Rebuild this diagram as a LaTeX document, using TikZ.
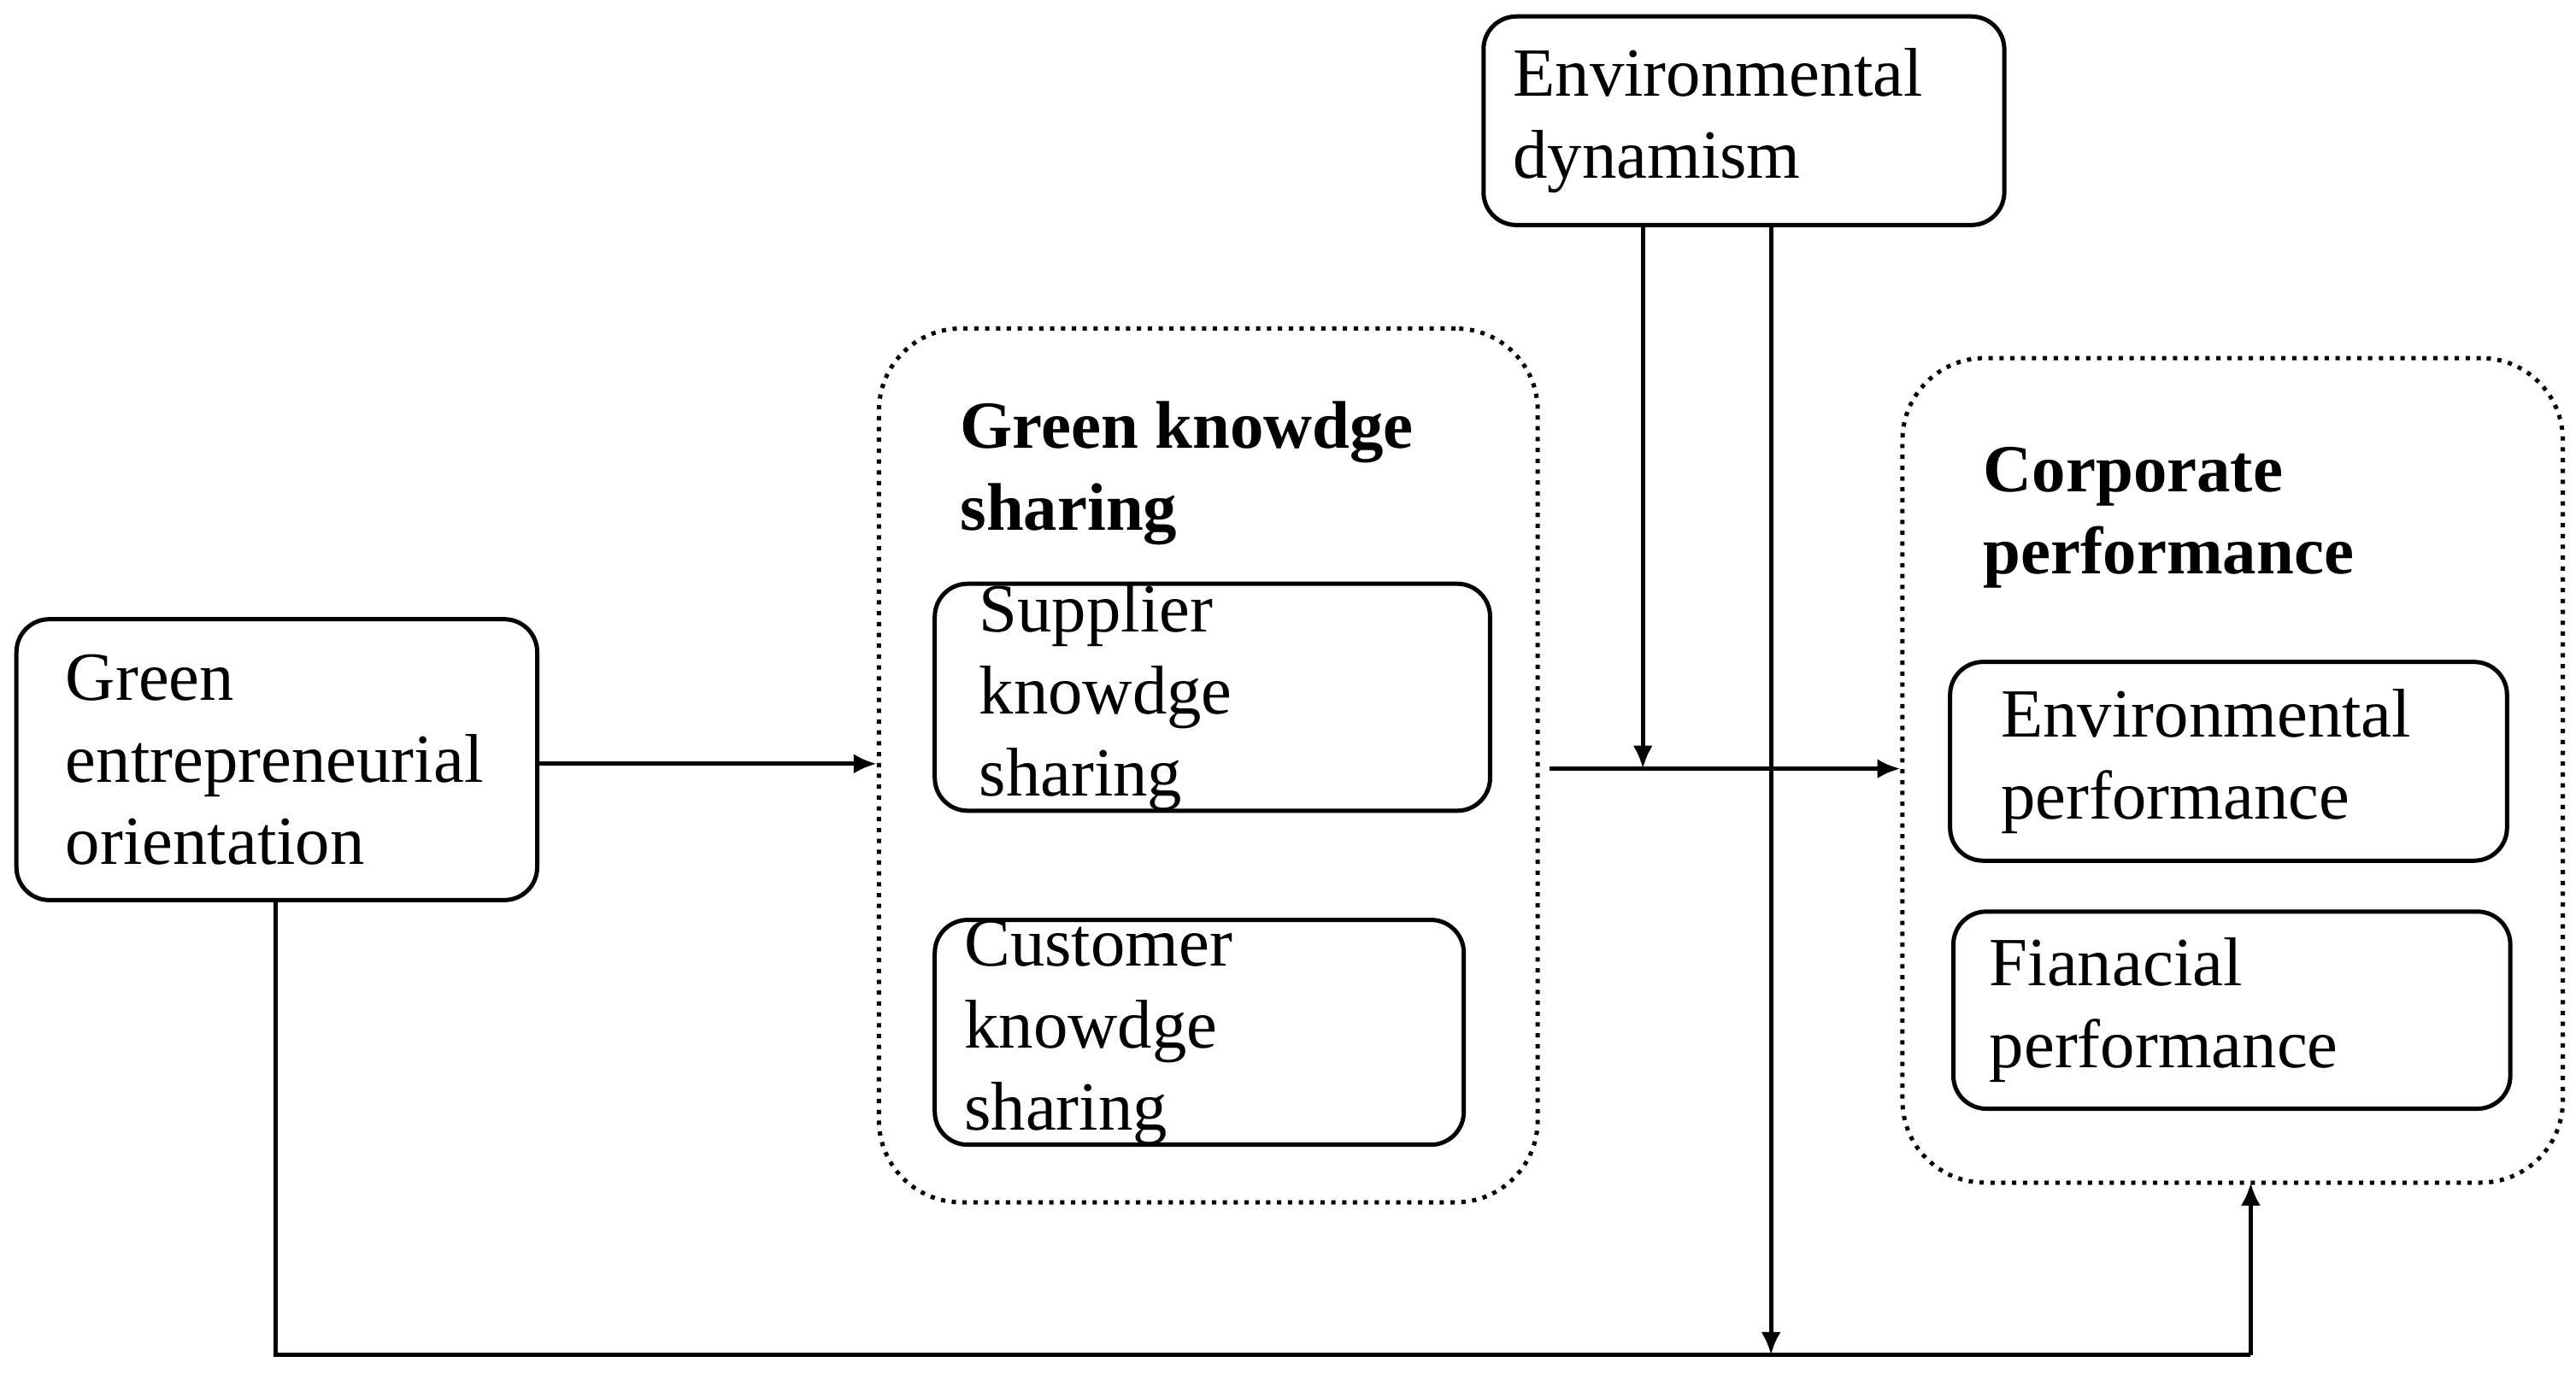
\documentclass[tikz,border=0pt]{standalone}
\usepackage{fontspec}
\setmainfont{Liberation Serif}
\usetikzlibrary{arrows.meta}
\begin{document}
\begin{tikzpicture}[x=0.5pt,y=-0.5pt,
  box/.style={draw,line width=1.3pt,rounded corners=10pt,align=flush left,font=\fontsize{21}{25}\selectfont,inner ysep=0pt},
  grp/.style={draw,line width=1.3pt,dotted,rounded corners=25pt,inner sep=0pt},
  ttl/.style={anchor=north west,align=flush left,font=\fontsize{20.5}{25}\selectfont\bfseries,inner sep=0pt},
  arr/.style={line width=1.3pt,-{Latex[length=7pt,width=6pt]}},
  ln/.style={line width=1.3pt}]
\useasboundingbox (0,0) rectangle (1568,836.5);
\node[box,text width=140.5pt,inner xsep=9pt,minimum height=63.5pt] (ed) at (1061.5,73.5) {Environmental\\dynamism};
\node[box,text width=128.5pt,inner xsep=15pt,minimum height=85.5pt] (eo) at (168.5,462.5) {Green\\entrepreneurial\\orientation};
\node[grp,minimum width=200.5pt,minimum height=266pt] (gks) at (735.5,466) {};
\node[ttl] (gkst) at (584,244) {Green knowdge\\sharing};
\node[box,text width=142pt,inner xsep=13.5pt,minimum height=61.5pt] (sup) at (738,424.5) {Supplier\\knowdge sharing};
\node[box,text width=143pt,inner xsep=9pt,minimum height=64.5pt] (cus) at (730,628.5) {Customer\\knowdge sharing};
\node[grp,minimum width=201pt,minimum height=251pt] (cp) at (1359,469) {};
\node[ttl] (cpt) at (1207,272) {Corporate\\performance};
\node[box,text width=138.5pt,inner xsep=15.5pt,minimum height=60.5pt] (ep) at (1356.5,463.5) {Environmental\\performance};
\node[box,text width=147.5pt,inner xsep=11pt,minimum height=60pt] (fp) at (1358.5,615) {Fianacial\\performance};
\coordinate (a1) at (943,468);
\coordinate (m1) at (1000,468);
\coordinate (d1) at (1000,137);
\coordinate (d2) at (1078,137);
\coordinate (b2) at (1078,825);
\coordinate (bl) at (168,825);
\coordinate (br) at (1370,825);
\coordinate (bt) at (1370,720);
\draw[arr] (eo.east |- 0,465) -- (gks.west |- 0,465);
\draw[arr] (a1) -- (cp.west |- a1);
\draw[arr] (d1) -- (m1);
\draw[arr] (d2) -- (b2);
\draw[ln] (eo.south -| bl) -- (bl) -- (br);
\draw[arr] (br) -- (bt);
\end{tikzpicture}
\end{document}
